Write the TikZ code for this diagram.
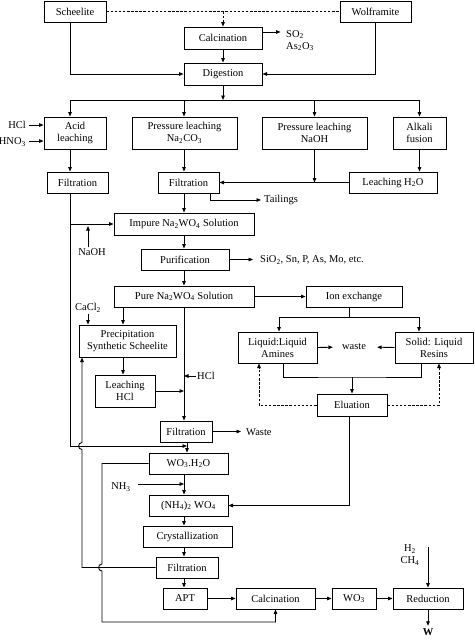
\documentclass[tikz,border=0pt]{standalone}
\usepackage{fontspec}
\setmainfont{Liberation Serif}
\usetikzlibrary{arrows.meta}
\begin{document}
\begin{tikzpicture}[x=1pt,y=1pt,
  box/.style={draw, line width=1pt, inner sep=1pt, align=center, font=\fontsize{10.5}{12}\selectfont},
  lbl/.style={inner sep=1pt, align=center, font=\fontsize{10.5}{12}\selectfont},
  ln/.style={line width=0.9pt},
  tip/.style={-{Triangle[length=4.5pt,width=3.6pt]}},
  arr/.style={ln, tip},
  dsh/.style={ln, dash pattern=on 2.5pt off 1.6pt},
]
\useasboundingbox (0,0) rectangle (474,-640);
% boxes
\node[box, minimum width=62pt, minimum height=21pt] (sch) at (75,-11.5) {Scheelite};
\node[box, minimum width=71pt, minimum height=21pt] (wol) at (375.5,-11.5) {Wolframite};
\node[box, minimum width=78pt, minimum height=22pt] (calc1) at (223,-38) {Calcination};
\node[box, minimum width=78pt, minimum height=22pt] (dig) at (223,-74) {Digestion};
\node[box, minimum width=62pt, minimum height=32pt] (acid) at (75,-133) {Acid\\leaching};
\node[box, minimum width=105pt, minimum height=32pt] (pna) at (184.5,-133) {Pressure leaching\\Na\textsubscript{2}CO\textsubscript{3}};
\node[box, minimum width=105pt, minimum height=32pt] (pnaoh) at (314.5,-133) {Pressure leaching\\NaOH};
\node[box, minimum width=53pt, minimum height=32pt] (alk) at (419.5,-133) {Alkali\\fusion};
\node[box, minimum width=61pt, minimum height=21pt] (filt1) at (77.5,-182.5) {Filtration};
\node[box, minimum width=61pt, minimum height=21pt] (filt2) at (188.5,-182.5) {Filtration};
\node[box, minimum width=88pt, minimum height=21pt] (leach) at (393,-182.5) {Leaching H\textsubscript{2}O};
\node[box, minimum width=140pt, minimum height=22pt] (impure) at (184,-224) {Impure Na\textsubscript{2}WO\textsubscript{4} Solution};
\node[box, minimum width=88pt, minimum height=21pt] (purif) at (185,-259.5) {Purification};
\node[box, minimum width=140pt, minimum height=21pt] (pure) at (184,-296.5) {Pure Na\textsubscript{2}WO\textsubscript{4} Solution};
\node[box, minimum width=96pt, minimum height=21pt] (ion) at (354,-296.5) {Ion exchange};
\node[box, minimum width=97pt, minimum height=32pt] (precip) at (127.5,-341) {Precipitation\\Synthetic Scheelite};
\node[box, minimum width=60pt, minimum height=32pt] (leachhcl) at (125,-391) {Leaching\\HCl};
\node[box, minimum width=79pt, minimum height=31pt] (amines) at (277.5,-347.5) {Liquid:Liquid\\Amines};
\node[box, minimum width=78pt, minimum height=31pt] (resins) at (434,-347.5) {Solid: Liquid\\Resins};
\node[box, minimum width=70pt, minimum height=22pt] (elu) at (352,-405) {Eluation};
\node[box, minimum width=52pt, minimum height=21pt] (filt3) at (186,-431.5) {Filtration};
\node[box, minimum width=79pt, minimum height=21pt] (wo3h2o) at (188.5,-463.5) {WO\textsubscript{3}.H\textsubscript{2}O};
\node[box, minimum width=79pt, minimum height=21pt] (nh4) at (188.5,-505.5) {(NH\textsubscript{4})\textsubscript{2} WO\textsubscript{4}};
\node[box, minimum width=89pt, minimum height=21pt] (cryst) at (187.5,-536.5) {Crystallization};
\node[box, minimum width=62pt, minimum height=21pt] (filt4) at (187,-567.5) {Filtration};
\node[box, minimum width=44pt, minimum height=21pt] (apt) at (185,-598.5) {APT};
\node[box, minimum width=79pt, minimum height=21pt] (calc2) at (275.5,-598.5) {Calcination};
\node[box, minimum width=44pt, minimum height=21pt] (wo3) at (354,-598.5) {WO\textsubscript{3}};
\node[box, minimum width=70pt, minimum height=21pt] (red) at (428,-598.5) {Reduction};
% labels
\node[lbl, align=left, anchor=west] (so2) at (285,-40.5) {SO\textsubscript{2}\\As\textsubscript{2}O\textsubscript{3}};
\node[lbl, anchor=east] (hcl) at (27,-125) {HCl};
\node[lbl, anchor=east] (hno) at (27,-142) {HNO\textsubscript{3}};
\node[lbl, anchor=west] (tail) at (263,-200) {Tailings};
\node[lbl] (naoh) at (92,-252) {NaOH};
\node[lbl, anchor=west] (sio) at (259,-260) {SiO\textsubscript{2}, Sn, P, As, Mo, etc.};
\node[lbl] (cacl) at (88,-308) {CaCl\textsubscript{2}};
\node[lbl, anchor=west] (hcl2) at (196,-376) {HCl};
\node[lbl, anchor=west] (waste1) at (245,-432) {Waste};
\node[lbl] (waste2) at (354,-347) {waste};
\node[lbl] (nh3) at (121,-487) {NH\textsubscript{3}};
\node[lbl] (h2) at (410,-555) {H\textsubscript{2}\\CH\textsubscript{4}};
\node[lbl, font=\fontsize{10.5}{12}\selectfont\bfseries] (w) at (428,-632.5) {W};
% helper coordinates
\coordinate (L) at (70,0);
\coordinate (S) at (184,0);
\coordinate (S2) at (187,0);
\coordinate (XP) at (123,0);
\coordinate (X82) at (82,0);
\coordinate (X102) at (102,0);
\coordinate (XT) at (210,0);
\coordinate (XA) at (279,0);
\coordinate (XR) at (419,0);
\coordinate (XA2) at (283,0);
\coordinate (XR2) at (421,0);
\coordinate (XD1) at (259,0);
\coordinate (XD2) at (439,0);
\coordinate (XE) at (349,0);
\coordinate (bar) at (0,-100);
\coordinate (ib) at (0,-317);
\coordinate (J) at (70,-446);
\coordinate (m) at (352,-377);
\coordinate (n3) at (138,-484);
\coordinate (hc) at (428,-547);
% top part
\draw[dsh] (sch.east) -- (wol.west);
\draw[dsh, tip] (calc1.north |- sch.east) -- (calc1.north);
\draw[arr] ([yshift=6pt]calc1.east) -- ++(18,0);
\draw[arr] (calc1.south) -- (dig.north);
\draw[arr] (sch.south -| L) |- (dig.west);
\draw[arr] (wol.south) |- (dig.east);
\draw[arr] (dig.south) -- (dig.south |- bar);
\draw[ln] (bar -| L) -- (bar -| alk.north);
\draw[arr] (bar -| L) -- (acid.north -| L);
\draw[arr] (bar -| S) -- (pna.north -| S);
\draw[arr] (bar -| pnaoh.north) -- (pnaoh.north);
\draw[arr] (bar -| alk.north) -- (alk.north);
\draw[arr] ([xshift=2pt]hcl.east) -- (hcl.east -| acid.west);
\draw[arr] ([xshift=2pt,yshift=1pt]hno.east) -- ([yshift=1pt]hno.east -| acid.west);
% leaching stage
\draw[arr] (acid.south -| L) -- (filt1.north -| L);
\draw[arr] (pna.south -| S) -- (filt2.north -| S);
\draw[arr] (alk.south) -- (alk.south |- leach.north);
\draw[arr] (leach.west) -- (filt2.east);
\draw[arr] (pnaoh.south) -- (pnaoh.south |- leach.west);
\draw[arr, shorten >=2pt] (filt2.south -| XT) |- (tail.west);
\draw[arr] (filt2.south -| S) -- (impure.north);
\draw[arr] (filt1.south -| L) -- (J) -- (J -| S2);
\draw[arr] (L |- impure.west) -- (impure.west);
\draw[arr] ([xshift=-4pt]naoh.north) -- ([xshift=-4pt,yshift=-2pt]naoh.north |- impure.west);
% purification
\draw[arr] (impure.south -| S) -- (purif.north -| S);
\draw[arr, shorten >=6pt] (purif.east) -- (purif.east -| sio.west);
\draw[arr] (purif.south -| S) -- (pure.north -| S);
\draw[arr] (pure.east) -- (ion.west);
% precipitation branch
\draw[arr] (cacl.south) -- (cacl.south |- precip.north);
\draw[arr] (pure.south -| XP) -- (precip.north -| XP);
\draw[arr] (pure.south -| S) -- (filt3.north -| S);
\draw[arr] (precip.south -| XP) -- (leachhcl.north -| XP);
\draw[arr] (leachhcl.east) -- (leachhcl.east -| S);
\draw[arr] (hcl2.west) -- (hcl2.west -| S);
\draw[arr, shorten >=4pt] (filt3.east) -- (filt3.east -| waste1.west);
% ion exchange branch
\draw[ln] (ion.south -| XE) -- (ib -| XE);
\draw[ln] (ib -| XA) -- (ib -| XR);
\draw[arr] (ib -| XA) -- (amines.north -| XA);
\draw[arr] (ib -| XR) -- (resins.north -| XR);
\draw[arr, shorten >=8pt] (amines.east) -- (waste2.west);
\draw[arr, shorten >=10pt] (resins.west) -- (waste2.east);
\draw[ln] (amines.south -| XA2) |- (m) -| (resins.south -| XR2);
\draw[arr] (m) -- (elu.north -| m);
\draw[dsh, tip] (elu.west) -| (amines.south -| XD1);
\draw[dsh, tip] (elu.east) -| (resins.south -| XD2);
\draw[arr] (elu.south -| XE) |- (nh4.east);
% lower chain
\draw[arr] (filt3.south -| S2) -- (wo3h2o.north -| S2);
\draw[arr] (wo3h2o.south -| S) -- (nh4.north -| S);
\draw[arr] (n3) -- (n3 -| S);
\draw[arr] (nh4.south -| S) -- (cryst.north -| S);
\draw[arr] (cryst.south -| S) -- (filt4.north -| S);
\draw[arr] (filt4.south -| S) -- (apt.north -| S);
\draw[arr] (apt.east) -- (calc2.west);
\draw[arr] (calc2.east) -- (wo3.west);
\draw[arr] (wo3.east) -- (red.west);
\draw[arr] (hc) -- (red.north -| hc);
\draw[arr, shorten >=2pt] (red.south) -- (w.north);
% recycle lines with hops
\draw[arr] (filt4.west) -- (filt4.west -| X82) -- (82,-449.5) .. controls (77.5,-449.5) and (77.5,-442.5) .. (82,-442.5) -- (precip.south -| X82);
\draw[arr] (wo3h2o.west) -- (wo3h2o.west -| X102) -- (102,-564) .. controls (97.5,-564) and (97.5,-571) .. (102,-571) -- (102,-622) -| (calc2.south);
\end{tikzpicture}
\end{document}
